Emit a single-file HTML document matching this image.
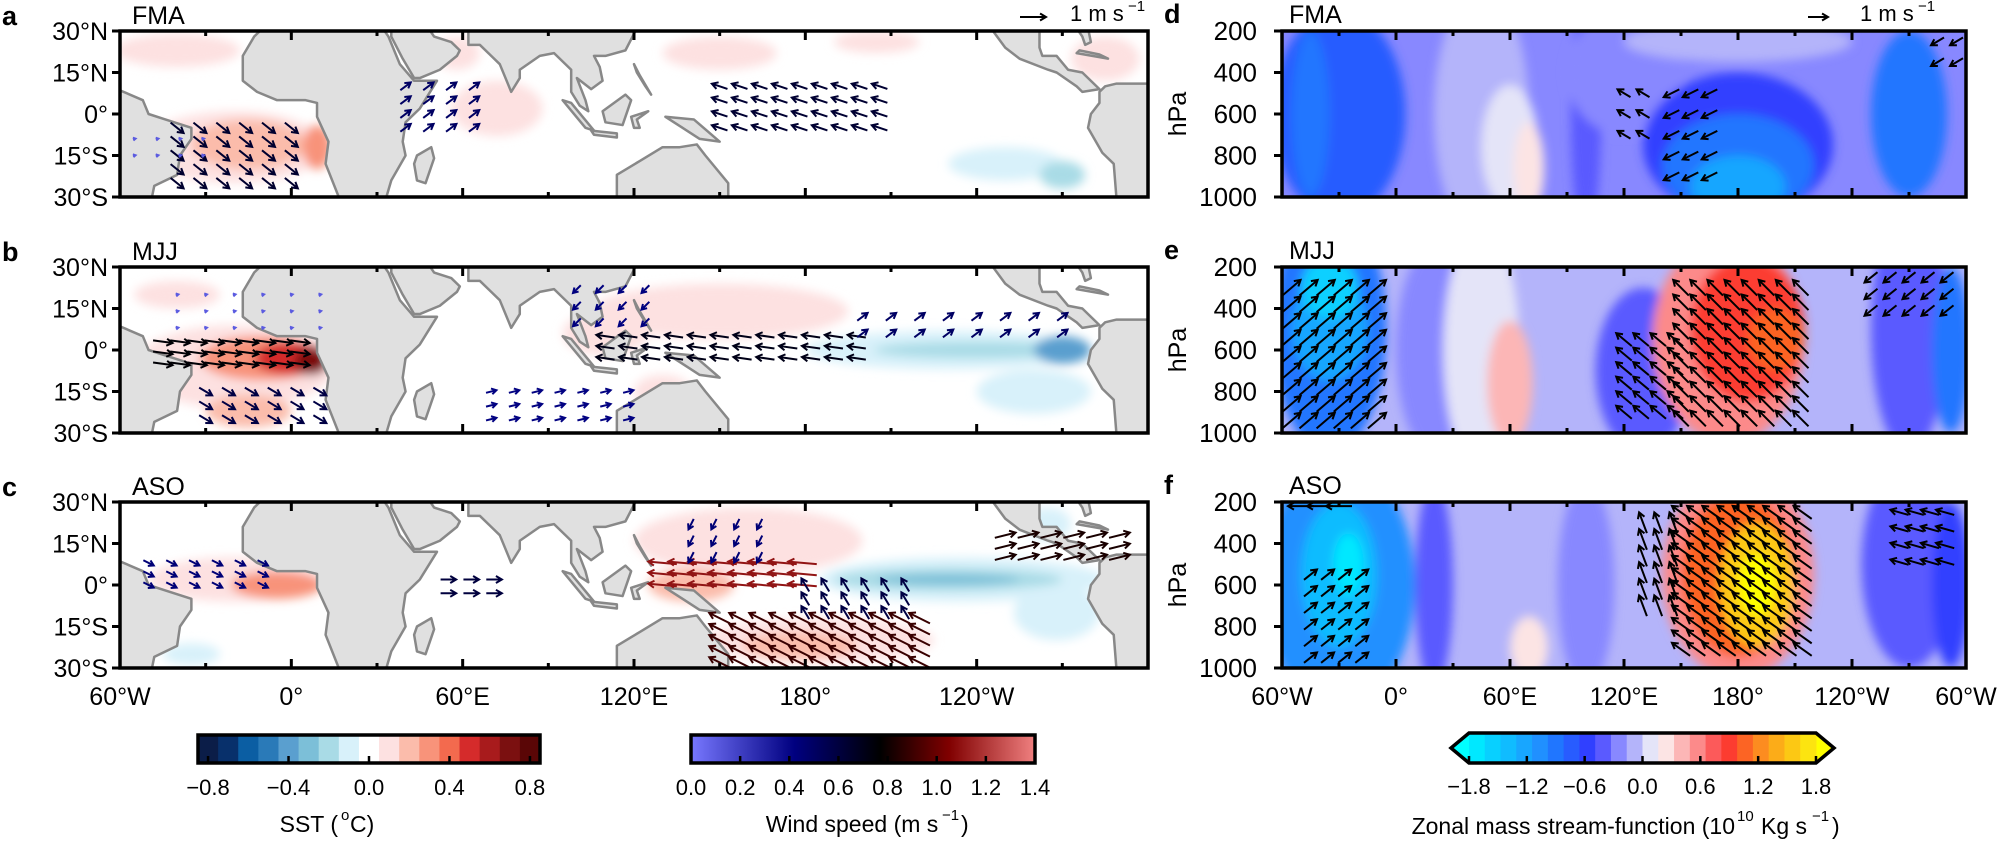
<!DOCTYPE html>
<html><head><meta charset="utf-8"><style>
body{margin:0;background:#fff}
svg{display:block;font-family:"Liberation Sans","DejaVu Sans",sans-serif}
</style></head><body>
<svg id="fig" width="2000" height="843" viewBox="0 0 2000 843">
<defs>
<filter id="blur" filterUnits="userSpaceOnUse" x="0" y="0" width="2000" height="843"><feGaussianBlur stdDeviation="5"/></filter>
<linearGradient id="windgrad" x1="0" x2="1" y1="0" y2="0">
<stop offset="0" stop-color="#7878ff"/><stop offset="0.3" stop-color="#000080"/><stop offset="0.55" stop-color="#000000"/><stop offset="0.75" stop-color="#800000"/><stop offset="1" stop-color="#f08080"/>
</linearGradient>
</defs>
</svg>
<script>
const NS='http://www.w3.org/2000/svg';
const svg=document.getElementById('fig');
// ---------- data ----------
const seasons=['FMA','MJJ','ASO'];
const mapLetters=['a','b','c'];
const secLetters=['d','e','f'];
const latTicks=[30,15,0,-15,-30];
const latTickLabels=['30°N','15°N','0°','15°S','30°S'];
const lonTicks=[-60,0,60,120,180,240];
const lonTickLabels=['60°W','0°','60°E','120°E','180°','120°W'];
const secLonTicks=[-60,0,60,120,180,240,300];
const secLonTickLabels=['60°W','0°','60°E','120°E','180°','120°W','60°W'];
const pTicks=[200,400,600,800,1000];
const sstColors=['#0b1d48','#08306b','#0b5ea3','#2a7ab8','#5a9fcf','#7cbfd8','#a9dbe6','#d8f1fa','#ffffff','#fde1e1','#fbbcab','#f8937a','#f36a4e','#d52b2b','#a81b1c','#7b1010','#5a0606'];
const sstTickVals=[-0.8,-0.4,0.0,0.4,0.8];
const windTickVals=[0.0,0.2,0.4,0.6,0.8,1.0,1.2,1.4];
const sfColors=['#00ffff','#00e8ff','#08d0ff','#10bcff','#18a6ff','#2090ff','#2076ff','#285cff','#3040ff','#5a5aff','#8888ff','#b4b4fa','#e4e4f8','#fce4e4','#fcb6b6','#fc8a8a','#fc5a5a','#fc3c30','#fc6424','#fc8c20','#fcac18','#fcc814','#fce410','#ffff00'];
const sfTickVals=[-1.8,-1.2,-0.6,0.0,0.6,1.2,1.8];
// SST anomaly blobs: panel, lon, lat, rlon, rlat, value
const sstBlobs=[
[0,-20,-12,32,13,0.1],[0,-15,-11,20,9,0.2],[0,9,-12,5,8,0.3],[0,-40,23,22,6,0.1],[0,72,2,16,10,0.1],[0,58,22,8,6,0.1],[0,150,22,20,6,0.1],[0,205,26,15,4,0.1],[0,285,20,12,8,0.1],[0,250,-18,20,6,-0.1],[0,270,-22,8,5,-0.2],
[1,-20,-6,35,15,0.1],[1,-10,-3,22,8,0.3],[1,0,-3,13,6,0.5],[1,7,-4,6,5,0.7],[1,-15,-22,15,6,0.2],[1,150,14,45,10,0.1],[1,110,6,15,8,0.1],[1,130,-15,10,6,0.1],[1,-40,20,15,5,0.1],[1,230,0,50,7,-0.1],[1,240,0,36,3,-0.2],[1,270,0,10,5,-0.4],[1,260,-15,20,8,-0.1],
[2,-20,2,30,8,0.1],[2,-5,0,16,5,0.3],[2,-35,-25,10,4,-0.1],[2,160,16,40,12,0.1],[2,185,-20,40,8,0.1],[2,178,-22,20,5,0.2],[2,140,0,15,6,0.2],[2,235,2,50,8,-0.1],[2,230,2,40,4,-0.2],[2,230,2,25,2,-0.3],[2,268,-10,15,10,-0.1],[2,265,22,8,6,-0.1]
];
// stream-function background and blobs: panel, lon, p, rlon, rp, value
const sfBackground=[-0.3,-0.15,-0.15];
const sfBlobs=[
[0,-30,600,35,500,-0.75],[0,-45,600,10,400,-0.9],[0,45,600,25,600,-0.05],[0,60,760,15,300,0.1],[0,70,860,8,220,0.2],[0,100,600,8,600,-0.45],[0,120,400,30,300,-0.3],[0,180,250,60,100,-0.15],[0,180,750,50,350,-0.6],[0,180,850,40,250,-0.9],[0,180,950,25,150,-1.2],[0,270,600,20,400,-0.9],
[1,-35,500,30,600,-0.9],[1,-35,500,20,250,-1.2],[1,-35,300,15,150,-1.5],[1,20,600,20,500,-0.3],[1,45,600,20,600,0.05],[1,60,760,12,300,0.3],[1,130,700,25,400,-0.45],[1,175,550,40,500,0.45],[1,185,500,30,350,0.75],[1,200,550,15,150,1.0],[1,270,500,20,600,-0.45],[1,292,600,10,400,-0.9],
[2,-30,600,40,600,-1.0],[2,-30,550,20,350,-1.35],[2,-25,500,8,150,-1.65],[2,20,600,10,500,-0.45],[2,100,600,15,500,-0.3],[2,70,900,10,150,0.2],[2,180,550,40,500,0.45],[2,180,550,30,400,0.9],[2,190,600,20,300,1.35],[2,190,600,10,150,1.65],[2,270,500,25,500,-0.45],[2,292,600,10,400,-0.6]
];
// surface wind groups: panel, lon0, lon1, lat0, lat1, dlon, dlat, u, v
const windGroups=[
[0,-40,5,-25,-2,8,5,0.5,-0.4],[0,40,70,-5,10,8,5,0.4,0.3],[0,150,210,-5,10,7,5,-0.6,0.2],[0,-55,-25,-15,-5,8,6,0.1,0.02],
[1,-45,5,-5,5,6,4,0.75,-0.1],[1,-40,10,8,20,10,6,0.1,0.02],[1,110,200,-3,5,8,4,-0.7,0.1],[1,200,270,6,15,10,6,0.4,0.3],[1,100,130,10,25,8,6,-0.3,-0.3],[1,70,120,-25,-15,8,5,0.4,0.1],[1,-30,10,-25,-15,8,5,0.5,-0.3],
[2,-50,-10,0,10,8,4,0.4,-0.2],[2,55,75,-3,5,8,5,0.6,0],[2,130,180,0,10,7,4,-1.1,0.1],[2,150,220,-28,-10,7,4,-0.8,0.4],[2,140,170,10,25,8,6,-0.2,-0.4],[2,180,220,-10,0,7,5,-0.3,0.5],[2,250,290,10,20,8,4,0.8,0.2]
];
// vertical circulation groups: panel, lon0, lon1, p0, p1, dlon, dp, u, w
const circGroups=[
[0,145,165,500,950,10,100,-0.6,-0.3],[0,120,135,500,700,10,100,-0.5,0.3],[0,285,295,250,400,10,100,-0.5,-0.3],
[1,-55,-10,300,950,9,80,0.7,0.6],[1,120,150,550,950,9,70,-0.6,0.5],[1,150,215,300,950,9,70,-0.6,0.6],[1,250,290,250,450,10,80,-0.5,-0.4],
[2,-50,-30,220,260,10,50,-1.0,0],[2,-45,-10,550,950,9,80,0.5,0.4],[2,130,150,300,700,8,80,-0.3,0.8],[2,150,220,250,950,8,60,-0.7,0.5],[2,265,290,250,500,8,80,-0.7,0.2]
];
// land polygons (lon,lat)
const land={
africa:[[-17,15],[-17,21],[-13,28],[-10,31],[32,31],[34,28],[38,18],[43,12],[51,12],[45,2],[40,-3],[39,-10],[40,-15],[35,-24],[33,-31],[17,-31],[12,-18],[13,-10],[9,-1],[9,4],[5,5],[-5,5],[-12,8],[-17,12]],
arabia:[[35,31],[35,28],[39,20],[43,13],[45,13],[52,16],[58,21],[59,23],[56,26],[50,28],[48,31]],
madagascar:[[44,-15],[49,-12],[50,-16],[47,-25],[44,-24],[43,-18]],
asia:[[62,25],[66,25],[70,21],[73,18],[77,8],[80,13],[80,16],[87,21],[92,22],[98,16],[98,8],[101,3],[104,1],[103,5],[100,13],[105,9],[109,12],[108,17],[106,21],[110,21],[117,23],[121,31],[62,31]],
sumatra:[[95,5],[98,4],[106,-6],[103,-5]],
borneo:[[109,1],[117,7],[119,5],[116,-4],[110,-3]],
java:[[105,-6],[114,-7],[114,-8.5],[106,-7.5]],
sulawesi:[[119,-1],[125,1],[121,-2],[122,-5],[120,-5]],
philippines:[[120,18],[122,14],[126,7],[124,10],[121,15]],
newguinea:[[131,-1],[141,-2],[150,-10],[143,-9],[137,-5]],
australia:[[114,-22],[114,-31],[153,-31],[153,-25],[145,-15],[142,-11],[136,-12],[130,-12],[122,-17]],
samerE:[[-61,9],[-52,5],[-50,0],[-44,-2],[-35,-5],[-35,-9],[-39,-15],[-40,-22],[-48,-26],[-49,-31],[-61,-31]],
samerW:[[289,-31],[288,-18],[284,-14],[279,-5],[280,0],[283,4],[283,8],[285,10],[289,11],[301,11],[301,-31]],
namer:[[245,31],[250,24],[255,20],[265,16],[268,15],[275,10],[277,8],[283,9],[277,15],[272,16],[268,21],[263,21],[262,24],[262,31]],
cuba:[[275,22],[286,20],[283,21.5],[276,23]],
florida:[[278,25],[280,26],[279,31],[275,31],[277,28]]
};
// ---------- geometry ----------
const mapX0=120,mapX1=1148,secX0=1282,secX1=1966;
const rowTop=[31,267,502],rowH=166;
const mx=lon=>mapX0+(lon+60)*(mapX1-mapX0)/360;
const my=(r,lat)=>rowTop[r]+(30-lat)*rowH/60;
const sx=lon=>secX0+(lon+60)*(secX1-secX0)/360;
const sy=(r,p)=>rowTop[r]+(p-200)*rowH/800;
function el(tag,attrs,parent){const e=document.createElementNS(NS,tag);for(const k in attrs)e.setAttribute(k,attrs[k]);(parent||svg).appendChild(e);return e;}
function txt(s,x,y,size,anchor,parent,weight){const t=el('text',{x:x,y:y,'font-size':size,'text-anchor':anchor||'start','font-weight':weight||'normal',fill:'#000'},parent);t.textContent=s;return t;}
function sstColor(v){let i=Math.round((v+0.8)/0.1);i=Math.max(0,Math.min(16,i));return sstColors[i];}
function sfColor(v){let i=Math.floor((v+1.8)/0.15+1e-6);i=Math.max(0,Math.min(23,i));return sfColors[i];}
function windColor(s){const stops=[[0,[120,120,255]],[0.42,[0,0,128]],[0.77,[0,0,0]],[1.05,[128,0,0]],[1.4,[240,128,128]]];for(let i=1;i<stops.length;i++){if(s<=stops[i][0]){const a=stops[i-1],b=stops[i],f=(s-a[0])/(b[0]-a[0]);return 'rgb('+a[1].map((c,j)=>Math.round(c+(b[1][j]-c)*f)).join(',')+')';}}return '#f08080';}
function arrow(g,x,y,dx,dy,color,w){const L=Math.hypot(dx,dy);if(L<1)return;const ux=dx/L,uy=dy/L;const hx=x+dx/2,hy=y+dy/2,tx=x-dx/2,ty=y-dy/2;const hs=Math.min(7,2+L*0.35);
const a=el('path',{d:`M${tx},${ty}L${hx},${hy}M${hx-hs*(ux*0.85-uy*0.5)},${hy-hs*(uy*0.85+ux*0.5)}L${hx},${hy}L${hx-hs*(ux*0.85+uy*0.5)},${hy-hs*(uy*0.85-ux*0.5)}`,stroke:color,'stroke-width':w,fill:'none'},g);

}
// ---------- map panels ----------
for(let r=0;r<3;r++){
  const g=el('g',{},svg);
  
  
  const cp=el('clipPath',{id:'mclip'+r},svg);el('rect',{x:mapX0,y:rowTop[r],width:mapX1-mapX0,height:rowH},cp);
  const field=el('g',{'clip-path':`url(#mclip${r})`},g);
  
  
  el('rect',{x:mapX0,y:rowTop[r],width:mapX1-mapX0,height:rowH,fill:'#fff'},field);
  const fb=el('g',{filter:'url(#blur)'},field);
  sstBlobs.filter(b=>b[0]===r).forEach(b=>{
    const e=el('ellipse',{cx:mx(b[1]),cy:my(r,b[2]),rx:b[3]*(mapX1-mapX0)/360,ry:b[4]*rowH/60,fill:sstColor(b[5])},fb);
    
    
  });
  const lg=el('g',{},field);
  
  
  for(const k in land){const p=el('polygon',{points:land[k].map(q=>mx(q[0])+','+my(r,q[1])).join(' '),fill:'#e0e0e0',stroke:'#888','stroke-width':2.5,'stroke-linejoin':'round'},lg);
    
    }
  const vg=el('g',{},field);
  
  
  windGroups.filter(w=>w[0]===r).forEach(w=>{
    const s=Math.hypot(w[7],w[8]);
    for(let lon=w[1];lon<=w[2];lon+=w[5])for(let lat=w[3];lat<=w[4];lat+=w[6]){
      arrow(vg,mx(lon),my(r,lat),w[7]*26,-w[8]*26,windColor(s),2);}
  });
  const fr=el('rect',{x:mapX0,y:rowTop[r],width:mapX1-mapX0,height:rowH,fill:'none',stroke:'#000','stroke-width':3.5},g);
  
  
  for(let lon=-60;lon<=300;lon+=30){const x=mx(lon),L=(lon%60===0)?9:5;
    el('line',{x1:x,x2:x,y1:rowTop[r],y2:rowTop[r]+L,stroke:'#000','stroke-width':3},g);
    el('line',{x1:x,x2:x,y1:rowTop[r]+rowH,y2:rowTop[r]+rowH-L,stroke:'#000','stroke-width':3},g);}
  latTicks.forEach((lt,i)=>{const y=my(r,lt);el('line',{x1:mapX0-8,x2:mapX0,y1:y,y2:y,stroke:'#000','stroke-width':3},g);
    const t=txt(latTickLabels[i],108,y+9,25,'end',g);
    
    });
  const L=txt(mapLetters[r],2,rowTop[r]-6,27,'start',g,'bold');
  
  
  const S=txt(seasons[r],132,rowTop[r]-7,25,'start',g);
  
  
  if(r===2){lonTicks.forEach((ln,i)=>{const t=txt(lonTickLabels[i],mx(ln),rowTop[r]+rowH+37,25,'middle',g);
    
    });}
}
{const g=el('g',{},svg);
 arrow(g,1033,17,26,0,'#000',2);txt('1 m s',1070,21,22,'start',g);txt('−1',1128,11,15,'start',g);}
// ---------- section panels ----------
for(let r=0;r<3;r++){
  const g=el('g',{},svg);
  
  
  const cp=el('clipPath',{id:'sclip'+r},svg);el('rect',{x:secX0,y:rowTop[r],width:secX1-secX0,height:rowH},cp);
  const field=el('g',{'clip-path':`url(#sclip${r})`},g);
  
  
  el('rect',{x:secX0,y:rowTop[r],width:secX1-secX0,height:rowH,fill:sfColor(sfBackground[r])},field);
  const fb=el('g',{filter:'url(#blur)'},field);
  sfBlobs.filter(b=>b[0]===r).forEach(b=>{
    const e=el('ellipse',{cx:sx(b[1]),cy:sy(r,b[2]),rx:b[3]*(secX1-secX0)/360,ry:b[4]*rowH/800,fill:sfColor(b[5])},fb);
    
    
  });
  const vg=el('g',{},field);
  
  
  circGroups.filter(w=>w[0]===r).forEach(w=>{
    for(let lon=w[1];lon<=w[2];lon+=w[5])for(let p=w[3];p<=w[4];p+=w[6]){
      arrow(vg,sx(lon),sy(r,p),w[7]*26,-w[8]*26,'#000',2);}
  });
  const fr=el('rect',{x:secX0,y:rowTop[r],width:secX1-secX0,height:rowH,fill:'none',stroke:'#000','stroke-width':3.5},g);
  
  
  for(let lon=-60;lon<=300;lon+=30){const x=sx(lon),L=(lon%60===0)?9:5;
    el('line',{x1:x,x2:x,y1:rowTop[r],y2:rowTop[r]+L,stroke:'#000','stroke-width':3},g);
    el('line',{x1:x,x2:x,y1:rowTop[r]+rowH,y2:rowTop[r]+rowH-L,stroke:'#000','stroke-width':3},g);}
  pTicks.forEach(p=>{const y=sy(r,p);el('line',{x1:secX0-8,x2:secX0,y1:y,y2:y,stroke:'#000','stroke-width':3},g);
    const t=txt(String(p),1257,y+9,26,'end',g);
    
    });
  const h=el('text',{x:0,y:0,'font-size':25,'text-anchor':'middle',transform:`translate(1186,${rowTop[r]+rowH/2}) rotate(-90)`},g);h.textContent='hPa';
  
  
  const L=txt(secLetters[r],1164,rowTop[r]-8,27,'start',g,'bold');
  
  
  const S=txt(seasons[r],1289,rowTop[r]-8,25,'start',g);
  
  
  if(r===2){secLonTicks.forEach((ln,i)=>{const t=txt(secLonTickLabels[i],sx(ln),rowTop[r]+rowH+37,25,'middle',g);
    
    });}
}
{const g=el('g',{},svg);
 arrow(g,1818,17,20,0,'#000',2);txt('1 m s',1860,21,22,'start',g);txt('−1',1918,11,15,'start',g);}
// ---------- colorbars ----------
{ const g=el('g',{},svg);
 const x0=198,x1=540,y0=735,h=28,w=(x1-x0)/sstColors.length;
 sstColors.forEach((c,i)=>el('rect',{x:x0+i*w,y:y0,width:w+0.5,height:h,fill:c},g));
 el('rect',{x:x0,y:y0,width:x1-x0,height:h,fill:'none',stroke:'#000','stroke-width':3.5},g);
 sstTickVals.forEach(v=>{const x=x0+w/2+(v+0.8)/1.6*(x1-x0-w);el('line',{x1:x,x2:x,y1:y0+h,y2:y0+h-7,stroke:'#000','stroke-width':2.5},g);
   txt(v===0?'0.0':(v<0?'−':'')+Math.abs(v).toFixed(1),x,y0+h+32,22,'middle',g);});
 const t=txt('SST (',338,832,23,'end',g);
 txt('o',341,820,15,'start',g);txt('C)',350,832,23,'start',g);
}
{ const g=el('g',{},svg);
 const x0=691,x1=1035,y0=735,h=28;
 el('rect',{x:x0,y:y0,width:x1-x0,height:h,fill:'url(#windgrad)',stroke:'#000','stroke-width':3.5},g);
 windTickVals.forEach(v=>{const x=x0+v/1.4*(x1-x0);el('line',{x1:x,x2:x,y1:y0+h,y2:y0+h-7,stroke:'#000','stroke-width':2.5},g);
   txt(v.toFixed(1),x,y0+h+32,22,'middle',g);});
 const t=txt('Wind speed (m s',852,832,23,'middle',g);
 txt('−1',942,820,15,'start',g);txt(')',961,832,23,'start',g);
}
{ const g=el('g',{},svg);
 const x0=1469,x1=1816,y0=733,h=30,w=(x1-x0)/(sfColors.length-2);
 el('polygon',{points:`${x0},${y0} ${x0-18},${y0+h/2} ${x0},${y0+h}`,fill:sfColors[0]},g);
 el('polygon',{points:`${x1},${y0} ${x1+18},${y0+h/2} ${x1},${y0+h}`,fill:sfColors[23]},g);
 for(let i=1;i<23;i++)el('rect',{x:x0+(i-1)*w,y:y0,width:w+0.5,height:h,fill:sfColors[i]},g);
 el('polygon',{points:`${x0},${y0} ${x1},${y0} ${x1+18},${y0+h/2} ${x1},${y0+h} ${x0},${y0+h} ${x0-18},${y0+h/2}`,fill:'none',stroke:'#000','stroke-width':3.5},g);
 sfTickVals.forEach(v=>{const x=x0+(v+1.8)/3.6*(x1-x0);el('line',{x1:x,x2:x,y1:y0+h,y2:y0+h-7,stroke:'#000','stroke-width':2.5},g);
   txt(v===0?'0.0':(v<0?'−':'')+Math.abs(v).toFixed(1),x,y0+h+31,22,'middle',g);});
 const t=txt('Zonal mass stream-function (10',1735,834,23,'end',g);
 txt('10',1737,821,15,'start',g);txt('Kg s',1761,834,23,'start',g);txt('−1',1812,821,15,'start',g);txt(')',1832,834,23,'start',g);
}
</script>
</body></html>
